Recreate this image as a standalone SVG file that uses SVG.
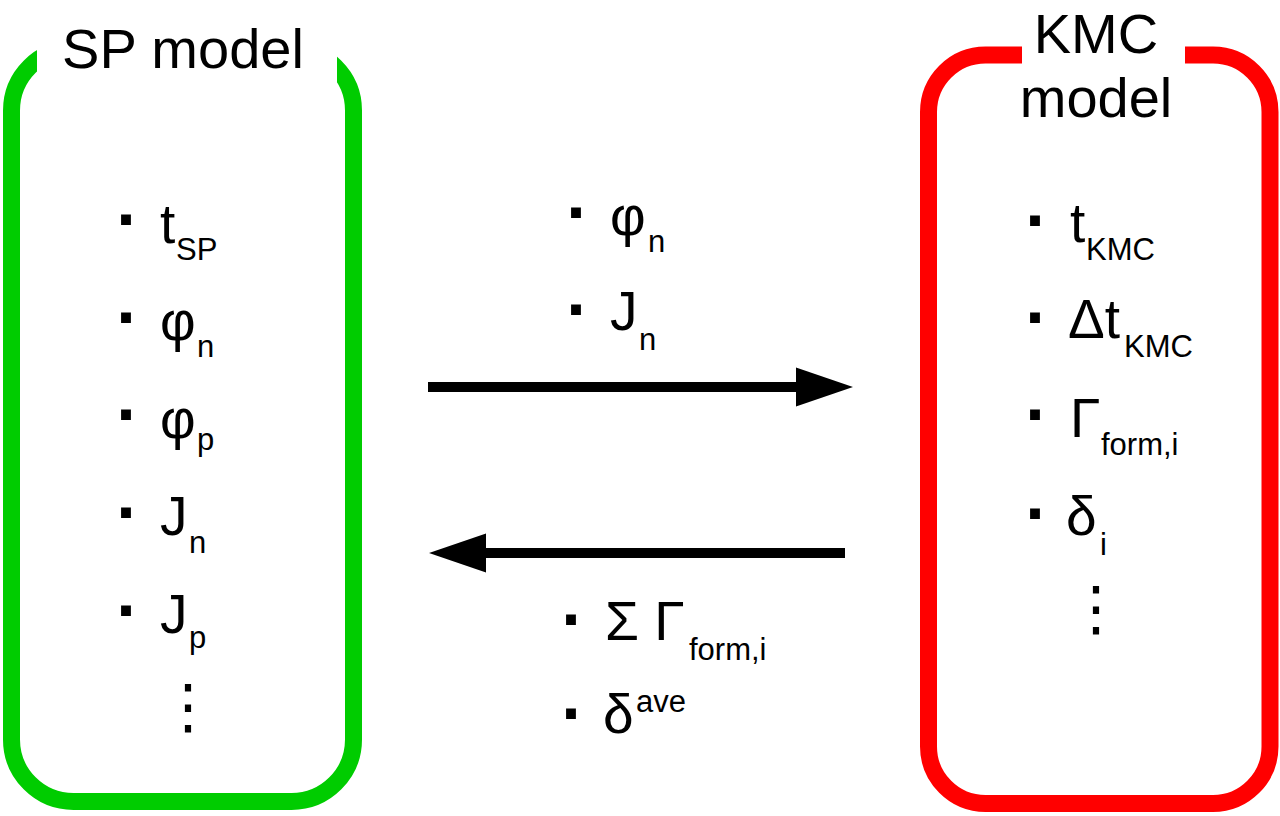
<svg xmlns="http://www.w3.org/2000/svg" width="1280" height="816" viewBox="0 0 1280 816">
  <style>
    text { font-family: "Liberation Sans", Arial, sans-serif; fill: #000; }
    .title { font-size: 56px; text-anchor: middle; }
    .m { font-size: 55px; }
    .s { font-size: 31px; }
    .b { font-size: 70px; font-weight: bold; text-anchor: middle; }
    .vd { font-family: "DejaVu Sans", sans-serif; font-size: 60px; text-anchor: middle; }
    .edge { stroke: #000; stroke-width: 10; fill: none; }
  </style>
  <defs>
    <marker id="head" markerUnits="userSpaceOnUse" markerWidth="58" markerHeight="40" refX="0" refY="20" orient="auto">
      <path d="M0,0.5 L57,20 L0,39.5 Z" fill="#000"/>
    </marker>
  </defs>
  <rect width="1280" height="816" fill="#fff"/>

  <g id="sp-model">
    <rect x="11.5" y="48.5" width="342" height="753" rx="62" ry="62" fill="none" stroke="#00cc00" stroke-width="17"/>
    <rect x="37" y="0" width="300" height="92" fill="#fff"/>
    <text class="title" x="183" y="68">SP model</text>
    <text class="b" x="128" y="243">·</text>
    <text class="m" x="160" y="243">t<tspan class="s" x="176" y="260">SP</tspan></text>
    <text class="b" x="128" y="341">·</text>
    <text class="m" x="160" y="340">φ<tspan class="s" x="197" y="357">n</tspan></text>
    <text class="b" x="128" y="438">·</text>
    <text class="m" x="160" y="438">φ<tspan class="s" x="197" y="450">p</tspan></text>
    <text class="b" x="128" y="536">·</text>
    <text class="m" x="160" y="535">J<tspan class="s" x="189" y="553">n</tspan></text>
    <text class="b" x="128" y="634">·</text>
    <text class="m" x="160" y="633">J<tspan class="s" x="189" y="648">p</tspan></text>
    <text class="vd" x="188" y="727">⋮</text>
  </g>

  <g id="kmc-model">
    <path d="M1022,55 H985.5 A57,57 0 0 0 928.5,112 V746.5 A57,57 0 0 0 985.5,803.5 H1213 A57,57 0 0 0 1270,746.5 V112 A57,57 0 0 0 1213,55 H1185" fill="none" stroke="#ff0000" stroke-width="17"/>
    <text class="title" x="1096" y="53">KMC</text>
    <text class="title" x="1096" y="117">model</text>
    <text class="b" x="1037" y="244">·</text>
    <text class="m" x="1070" y="242">t<tspan class="s" x="1086" y="260">KMC</tspan></text>
    <text class="b" x="1037" y="341">·</text>
    <text class="m" x="1068" y="338">Δt<tspan class="s" x="1124" y="357">KMC</tspan></text>
    <text class="b" x="1037" y="438">·</text>
    <text class="m" x="1070" y="437">Γ<tspan class="s" x="1101" y="455">form,i</tspan></text>
    <text class="b" x="1037" y="537">·</text>
    <text class="m" x="1066" y="535">δ<tspan class="s" x="1100" y="555">i</tspan></text>
    <text class="vd" x="1096" y="629">⋮</text>
  </g>

  <g id="label-forward">
    <text class="b" x="578" y="236">·</text>
    <text class="m" x="610" y="235">φ<tspan class="s" x="648" y="252">n</tspan></text>
    <text class="b" x="578" y="333">·</text>
    <text class="m" x="610" y="330">J<tspan class="s" x="639" y="350">n</tspan></text>
  </g>

  <g id="label-backward">
    <text class="b" x="573" y="643">·</text>
    <text class="m" x="605" y="640">Σ Γ<tspan class="s" x="689" y="660">form,i</tspan></text>
    <text class="b" x="573" y="737">·</text>
    <text class="m" x="603" y="733">δ<tspan class="s" x="636" y="712">ave</tspan></text>
  </g>

  <g id="connectors">
    <path class="edge" d="M428,387 H796" marker-end="url(#head)"/>
    <path class="edge" d="M845,553 H486" marker-end="url(#head)"/>
  </g>
</svg>
